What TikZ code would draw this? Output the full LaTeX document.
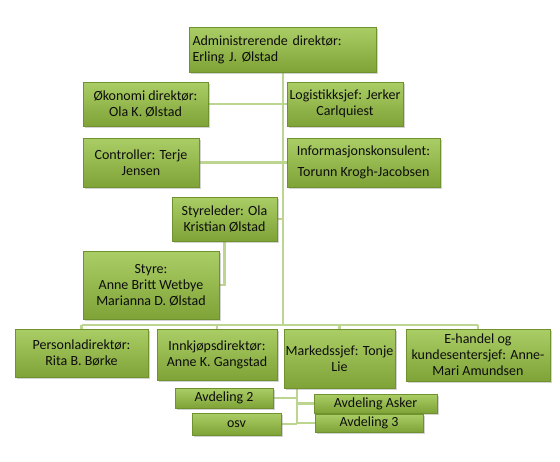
\documentclass[tikz,border=0pt]{standalone}
\usepackage{fontspec}
\setmainfont{Carlito}
\usetikzlibrary{shadows}
\usetikzlibrary{backgrounds}
\definecolor{boxtop}{HTML}{ABCD66}
\definecolor{boxbot}{HTML}{7FA337}
\definecolor{boxline}{HTML}{6F922E}
\definecolor{linkgreen}{HTML}{BCD692}
\begin{document}
\begin{tikzpicture}[x=1pt,y=-1pt,
  unit/.style={draw=boxline,line width=0.6pt,top color=boxtop,bottom color=boxbot,
    inner sep=1pt,align=center,text=black!95,
    font=\fontsize{14}{16}\selectfont,
    drop shadow={shadow xshift=1.5pt,shadow yshift=-1.5pt,opacity=0.35}},
  link/.style={draw=linkgreen,line width=2.8pt}]
\useasboundingbox (0,0) rectangle (560,461);
\coordinate (bus) at (283,325);
\coordinate (mtop) at (297,388);
\coordinate (mbot) at (297,423);
\node[unit,minimum width=187pt,minimum height=45pt,text width=181pt,align=left] (adm) at (283,49.5)
  {Administrerende direktør:\\Erling J. Ølstad};
\node[unit,minimum width=125pt,minimum height=44pt] (oko) at (145.5,104) {Økonomi direktør:\\Ola K. Ølstad};
\node[unit,minimum width=116pt,minimum height=44pt] (log) at (345,104) {Logistikksjef: Jerker\\Carlquiest};
\node[unit,minimum width=116pt,minimum height=49pt] (con) at (141,162.5) {Controller: Terje\\Jensen};
\node[unit,minimum width=153pt,minimum height=49pt,font=\fontsize{14}{21}\selectfont] (inf) at (363.5,162.5)
  {Informasjonskonsulent:\\Torunn Krogh-Jacobsen};
\node[unit,minimum width=105pt,minimum height=44pt] (styl) at (224.5,219) {Styreleder: Ola\\Kristian Ølstad};
\node[unit,minimum width=136pt,minimum height=68pt] (sty) at (151,285) {Styre:\\Anne Britt Wetbye\\Marianna D. Ølstad};
\node[unit,minimum width=133pt,minimum height=48pt] (per) at (81.5,353) {Personladirektør:\\Rita B. Børke};
\node[unit,minimum width=120pt,minimum height=51pt] (inn) at (217,354.5) {Innkjøpsdirektør:\\Anne K. Gangstad};
\node[unit,minimum width=111pt,minimum height=59pt] (mar) at (339.5,358.5) {Markedssjef: Tonje\\Lie};
\node[unit,minimum width=144pt,minimum height=52pt] (ehd) at (478,355) {E-handel og\\kundesentersjef: Anne-\\Mari Amundsen};
\node[unit,minimum width=98pt,minimum height=20pt] (av2) at (224,398) {Avdeling 2};
\node[unit,minimum width=123pt,minimum height=19pt] (ask) at (375.5,403.5) {Avdeling Asker};
\node[unit,minimum width=89pt,minimum height=22pt] (osv) at (236.5,424) {osv};
\node[unit,minimum width=108pt,minimum height=18pt] (av3) at (369,423) {Avdeling 3};
% connectors behind the boxes
\begin{scope}[on background layer]
\draw[link] (adm.south -| bus) -- (bus);
\draw[link] (oko.east) -- (oko.east -| bus);
\draw[link] (log.west) -- (log.west -| bus);
\draw[link] (con.east) -- (con.east -| bus);
\draw[link] (inf.west) -- (inf.west -| bus);
\draw[link] (styl.east) -- (styl.east -| bus);
\draw[link] (styl.south) |- (sty.east);
\draw[link] (per.north |- bus) -- (ehd.north |- bus);
\foreach \n in {per,inn,mar,ehd}
  \draw[link] (\n.north |- bus) -- (\n.north);
\draw[link] (mtop) -- (mbot);
\draw[link] (av2.east) -- (av2.east -| mtop);
\draw[link] (ask.west) -- (ask.west -| mtop);
\draw[link] (osv.east) -- (osv.east -| mtop);
\draw[link] (av3.west) -- (av3.west -| mtop);
\end{scope}
\end{tikzpicture}
\end{document}
